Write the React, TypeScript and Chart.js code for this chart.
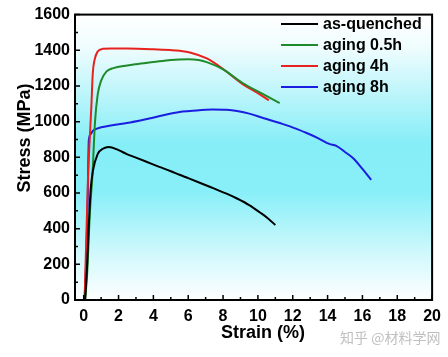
import React, { useEffect, useRef } from "react";
import { Chart, registerables } from "chart.js";

Chart.register(...registerables);

const seriesLabels = ["as-quenched", "aging 0.5h", "aging 4h", "aging 8h"];
const seriesColors = ["#000000", "#1f8a2a", "#e8201e", "#1a1ee0"];

const asQuenchedStrain = [0.08, 0.2, 0.3, 0.4, 0.53, 0.8, 1.1, 1.44, 2.0, 2.47, 3.0, 3.6, 4.3, 5.0, 5.5, 6.0, 6.8, 7.5, 8.2, 8.8, 9.5, 10.1, 10.6, 11.0];
const asQuenchedStress = [0, 200, 430, 620, 725, 818, 848, 858, 840, 818, 798, 775, 748, 722, 702, 683, 652, 624, 596, 569, 532, 492, 456, 420];

const aging05Strain = [0.08, 0.2, 0.35, 0.5, 0.65, 0.8, 1.0, 1.3, 1.7, 2.5, 3.0, 4.0, 5.0, 6.0, 6.6, 7.1, 8.0, 9.1, 10.3, 11.25];
const aging05Stress = [0, 150, 480, 700, 1000, 1150, 1230, 1280, 1300, 1315, 1322, 1334, 1346, 1350, 1345, 1332, 1293, 1218, 1154, 1104];

const aging4Strain = [0.05, 0.15, 0.25, 0.34, 0.44, 0.52, 0.63, 0.8, 1.1, 1.6, 2.5, 4.0, 5.0, 5.5, 6.1, 7.07, 8.0, 9.1, 10.0, 10.63];
const aging4Stress = [0, 350, 700, 890, 1087, 1270, 1349, 1393, 1408, 1410, 1410, 1406, 1401, 1397, 1388, 1354, 1295, 1212, 1160, 1120];

const aging8Strain = [0.05, 0.15, 0.23, 0.29, 0.4, 0.52, 0.8, 1.1, 1.8, 2.47, 3.5, 4.37, 5.5, 6.1, 7.4, 8.2, 8.8, 9.5, 10.3, 11.26, 11.8, 12.8, 13.5, 14.1, 14.5, 15.0, 15.5, 16.0, 16.5];
const aging8Stress = [0, 250, 557, 892, 930, 948, 962, 970, 982, 992, 1012, 1031, 1054, 1059, 1068, 1066, 1059, 1045, 1020, 992, 975, 936, 905, 875, 864, 830, 792, 735, 674];

const xTickValues = [0, 2, 4, 6, 8, 10, 12, 14, 16, 18, 20];
const xMinorValues = [1, 3, 5, 7, 9, 11, 13, 15, 17, 19];
const yTickValues = [0, 200, 400, 600, 800, 1000, 1200, 1400, 1600];
const yMinorValues = [100, 300, 500, 700, 900, 1100, 1300, 1500];

const xTitle = "Strain (%)";
const yTitle = "Stress (MPa)";
const watermark = "知乎 @材料学网";

const strains = [asQuenchedStrain, aging05Strain, aging4Strain, aging8Strain];
const stresses = [asQuenchedStress, aging05Stress, aging4Stress, aging8Stress];

const FONT = "'Liberation Sans', Arial, sans-serif";

const bgPlugin = {
  id: "bgGradient",
  beforeDraw(chart: any) {
    const { ctx, chartArea: a } = chart;
    const g = ctx.createLinearGradient(0, a.top, 0, a.bottom);
    g.addColorStop(0, "#ffffff");
    g.addColorStop(0.12, "#eefcfe");
    g.addColorStop(0.45, "#86eef7");
    g.addColorStop(0.62, "#88eff8");
    g.addColorStop(0.85, "#d4f9fc");
    g.addColorStop(1, "#ffffff");
    ctx.save();
    ctx.fillStyle = g;
    ctx.fillRect(a.left, a.top, a.right - a.left, a.bottom - a.top);
    ctx.restore();
  },
};

const framePlugin = {
  id: "frameTicks",
  afterDatasetsDraw(chart: any) {
    const { ctx, chartArea: a, scales } = chart;
    const xs = scales.x;
    const ys = scales.y;
    ctx.save();
    ctx.strokeStyle = "#000";
    ctx.lineWidth = 2;
    ctx.strokeRect(a.left, a.top, a.right - a.left, a.bottom - a.top);
    ctx.lineWidth = 1.5;
    ctx.beginPath();
    xTickValues.forEach((v) => {
      const px = xs.getPixelForValue(v);
      ctx.moveTo(px, a.bottom);
      ctx.lineTo(px, a.bottom - 5);
    });
    xMinorValues.forEach((v) => {
      const px = xs.getPixelForValue(v);
      ctx.moveTo(px, a.bottom);
      ctx.lineTo(px, a.bottom - 3);
    });
    yTickValues.forEach((v) => {
      const py = ys.getPixelForValue(v);
      ctx.moveTo(a.left, py);
      ctx.lineTo(a.left + 5, py);
    });
    yMinorValues.forEach((v) => {
      const py = ys.getPixelForValue(v);
      ctx.moveTo(a.left, py);
      ctx.lineTo(a.left + 3, py);
    });
    ctx.stroke();
    ctx.restore();
  },
};

const legendPlugin = {
  id: "customLegend",
  afterDraw(chart: any) {
    const { ctx } = chart;
    ctx.save();
    ctx.font = `bold 16px ${FONT}`;
    ctx.textBaseline = "middle";
    ctx.textAlign = "left";
    const rows = [24, 45, 66, 87];
    chart.data.datasets.forEach((ds: any, i: number) => {
      const y = rows[i];
      ctx.strokeStyle = ds.borderColor;
      ctx.lineWidth = 2;
      ctx.beginPath();
      ctx.moveTo(281, y);
      ctx.lineTo(318, y);
      ctx.stroke();
      ctx.fillStyle = "#000";
      ctx.fillText(ds.label, 323, y + 1);
    });
    // axis titles
    ctx.font = `bold 18px ${FONT}`;
    ctx.textAlign = "center";
    ctx.fillText(xTitle, 263, 333);
    ctx.save();
    ctx.translate(25, 138);
    ctx.rotate(-Math.PI / 2);
    ctx.fillText(yTitle, 0, 0);
    ctx.restore();
    ctx.textAlign = "left";
    ctx.font = `14px 'Noto Sans CJK SC', sans-serif`;
    ctx.fillStyle = "rgba(170,170,170,0.75)";
    ctx.fillText(watermark, 340, 338);
    ctx.restore();
  },
};

export default function App() {
  const ref = useRef<HTMLCanvasElement | null>(null);
  useEffect(() => {
    if (!ref.current) return;
    const datasets = seriesLabels.map((label, i) => ({
      label,
      data: strains[i].map((x, j) => ({ x, y: stresses[i][j] })),
      borderColor: seriesColors[i],
      backgroundColor: seriesColors[i],
      borderWidth: 2,
      pointRadius: 0,
      showLine: true,
      fill: false,
      cubicInterpolationMode: "monotone" as const,
    }));
    const chart = new Chart(ref.current, {
      type: "scatter",
      data: { datasets },
      plugins: [bgPlugin, framePlugin, legendPlugin],
      options: {
        animation: false,
        responsive: false,
        maintainAspectRatio: false,
        layout: { padding: { top: 13, right: 15, left: 0, bottom: 0 } },
        plugins: { legend: { display: false }, tooltip: { enabled: false } },
        scales: {
          x: {
            type: "linear",
            min: -0.5,
            max: 20,
            grid: { display: false, drawTicks: false },
            border: { display: false },
            afterBuildTicks: (s: any) => {
              s.ticks = xTickValues.map((v) => ({ value: v }));
            },
            afterFit: (s: any) => {
              s.height = 57;
            },
            ticks: {
              color: "#000",
              padding: 7,
              maxRotation: 0,
              autoSkip: false,
              callback: (v: any) => String(v),
              font: { family: FONT, size: 16, weight: "bold" },
            },
            title: { display: false, text: xTitle },
          },
          y: {
            type: "linear",
            min: 0,
            max: 1600,
            grid: { display: false, drawTicks: false },
            border: { display: false },
            afterBuildTicks: (s: any) => {
              s.ticks = yTickValues.map((v) => ({ value: v }));
            },
            afterFit: (s: any) => {
              s.width = 75;
            },
            ticks: {
              color: "#000",
              padding: 5,
              autoSkip: false,
              callback: (v: any) => String(v),
              font: { family: FONT, size: 16, weight: "bold" },
            },
            title: { display: false, text: yTitle },
          },
        },
      },
    });
    return () => chart.destroy();
  }, []);
  return (
    <div style={{ position: "fixed", left: 0, top: 0, width: 448, height: 357, background: "#fff" }}>
      <canvas ref={ref} width={448} height={357} style={{ width: 448, height: 357, display: "block" }} />
    </div>
  );
}
